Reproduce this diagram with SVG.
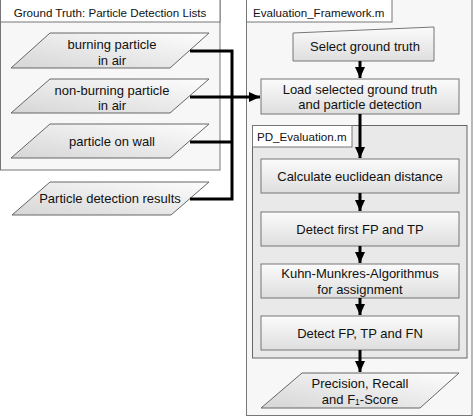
<svg xmlns="http://www.w3.org/2000/svg" width="474" height="418" viewBox="0 0 474 418">
<defs>
<linearGradient id="g" x1="0" y1="0" x2="0" y2="1">
<stop offset="0" stop-color="#fbfbfb"/>
<stop offset="1" stop-color="#dedede"/>
</linearGradient>
<linearGradient id="gp" x1="1" y1="0" x2="0" y2="1">
<stop offset="0" stop-color="#fdfdfd"/>
<stop offset="1" stop-color="#d6d6d6"/>
</linearGradient>
<marker id="ah" markerUnits="userSpaceOnUse" markerWidth="12" markerHeight="12" viewBox="0 0 12 12" refX="11" refY="6" orient="auto">
<path d="M0,1 L11,6 L0,11 Z" fill="#000"/>
</marker>
</defs>
<style>
.panel{fill:#f7f7f7;stroke:#777;stroke-width:1}
.hdr{fill:#fff;stroke:#777;stroke-width:1}
.box{fill:url(#g);stroke:#777;stroke-width:1}
.para{fill:url(#gp);stroke:#666;stroke-width:1}
.pd{fill:#e9e9e9;stroke:#666;stroke-width:1}
.t{font-family:"Liberation Sans",Arial,sans-serif;font-size:13px;fill:#111;text-anchor:middle;dominant-baseline:central}
.tl{font-family:"Liberation Sans",Arial,sans-serif;font-size:11.6px;fill:#111;dominant-baseline:central}
.c{fill:none;stroke:#000;stroke-width:3}
</style>
<rect width="474" height="418" fill="#fff"/>
<g id="ground-truth-panel">
<rect class="panel" x="0.5" y="-0.5" width="219.5" height="170.5"/>
<rect class="hdr" x="0.5" y="-0.5" width="219.5" height="22.5"/>
<text class="tl" x="110" y="12" text-anchor="middle">Ground Truth: Particle Detection Lists</text>
</g>
<g id="burning">
<polygon class="para" points="50,33 209,33 170,68 11,68"/>
<text class="t" x="112" y="44">burning particle</text>
<text class="t" x="112" y="60">in air</text>
</g>
<g id="nonburning">
<polygon class="para" points="50,79 209,79 170,113 11,113"/>
<text class="t" x="112" y="90">non-burning particle</text>
<text class="t" x="112" y="105">in air</text>
</g>
<g id="wall">
<polygon class="para" points="50,124 209,124 170,158 11,158"/>
<text class="t" x="112" y="141">particle on wall</text>
</g>
<g id="detection">
<polygon class="para" points="50,182 209,182 171,215 12,215"/>
<text class="t" x="110" y="198">Particle detection results</text>
</g>
<g id="eval-framework">
<rect class="panel" x="246.5" y="-0.5" width="225.5" height="416"/>
<rect class="hdr" x="246.5" y="-0.5" width="145.5" height="22.5"/>
<text class="tl" x="253" y="12">Evaluation_Framework.m</text>
</g>
<g id="select">
<polygon class="box" points="293,33 434,27 434,61 293,61"/>
<text class="t" x="365" y="46">Select ground truth</text>
</g>
<g id="load">
<rect class="box" x="261" y="79" width="198" height="35"/>
<text class="t" x="360" y="89">Load selected ground truth</text>
<text class="t" x="360" y="104">and particle detection</text>
</g>
<g id="pd-evaluation">
<rect class="pd" x="252.5" y="125.5" width="214.5" height="232.5"/>
<rect class="hdr" x="252.5" y="125.5" width="99.5" height="21.5"/>
<text class="tl" x="257" y="136">PD_Evaluation.m</text>
</g>
<g id="euclid">
<rect class="box" x="261" y="159" width="198" height="34"/>
<text class="t" x="360" y="176">Calculate euclidean distance</text>
</g>
<g id="first">
<rect class="box" x="261" y="212" width="198" height="34"/>
<text class="t" x="360" y="229">Detect first FP and TP</text>
</g>
<g id="kuhn">
<rect class="box" x="261" y="264" width="198" height="34"/>
<text class="t" x="360" y="273">Kuhn-Munkres-Algorithmus</text>
<text class="t" x="360" y="289">for assignment</text>
</g>
<g id="fptpfn">
<rect class="box" x="261" y="316" width="198" height="34"/>
<text class="t" x="360" y="333">Detect FP, TP and FN</text>
</g>
<g id="result">
<polygon class="para" points="302,373 459,373 420,408 261,408"/>
<text class="t" x="360" y="383">Precision, Recall</text>
<text class="t" x="360" y="399">and F<tspan font-size="8.5" dy="3">1</tspan><tspan dy="-3">-Score</tspan></text>
</g>
<g id="connectors">
<polyline class="c" points="190,51 232,51 232,199 190,199"/>
<line class="c" x1="190" y1="142" x2="232" y2="142"/>
<line class="c" x1="190" y1="97" x2="260" y2="97" marker-end="url(#ah)"/>
<line class="c" x1="360" y1="61" x2="360" y2="78" marker-end="url(#ah)"/>
<line class="c" x1="360" y1="114" x2="360" y2="158" marker-end="url(#ah)"/>
<line class="c" x1="360" y1="193" x2="360" y2="211" marker-end="url(#ah)"/>
<line class="c" x1="360" y1="246" x2="360" y2="263" marker-end="url(#ah)"/>
<line class="c" x1="360" y1="298" x2="360" y2="315" marker-end="url(#ah)"/>
<line class="c" x1="360" y1="350" x2="360" y2="372" marker-end="url(#ah)"/>
</g>
</svg>
